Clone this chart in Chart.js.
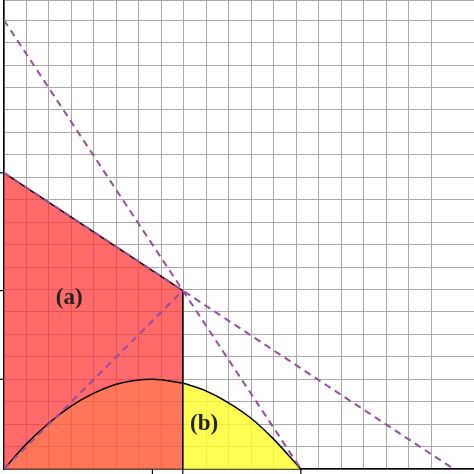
<!DOCTYPE html>
<html><head><meta charset="utf-8">
<script src="https://cdn.jsdelivr.net/npm/chart.js@4"></script>
<style>html,body{margin:0;padding:0;background:#fff}#w{width:474px;height:474px}</style>
</head><body><div id="w"><canvas id="c"></canvas></div>
<script>
const topLineX = [0, 7.95], topLineY = [13.2, 7.95];
const parabX = [0, 1, 2, 3, 4, 5, 6.6, 7.95, 9, 10, 11, 12, 13.2];
const parabY = [0, 1.12, 2.05, 2.81, 3.38, 3.78, 4, 3.83, 3.47, 2.94, 2.25, 1.32, 0];
const dash1X = [0, 13.2], dash1Y = [20, 0];
const dash2X = [0, 20], dash2Y = [13.2, 0];
const dash3X = [0, 7.95], dash3Y = [0, 7.95];
const xTickVals = [6.6, 7.95, 13.2];
const yTickVals = [4, 7.95, 13.2];
const labelTexts = ['(a)', '(b)'];
const labelX = [2.9, 8.9], labelY = [7.6, 2.0];

const pts = (xs, ys) => xs.map((x, i) => ({x, y: ys[i]}));
const splitIdx = parabX.indexOf(7.95);
const purple = '#994D9E';
const dashed = (d) => ({data: d, borderColor: purple, borderWidth: 2, borderDash: [7, 5], pointRadius: 0, fill: false});

const extras = {
  id: 'extras',
  afterDatasetsDraw(ch) {
    const c = ch.ctx, xs = ch.scales.x, ys = ch.scales.y;
    c.save();
    c.strokeStyle = '#000'; c.lineWidth = 1.2;
    xTickVals.forEach(v => { const p = xs.getPixelForValue(v); c.beginPath(); c.moveTo(p, ch.chartArea.bottom); c.lineTo(p, ch.chartArea.bottom + 5); c.stroke(); });
    yTickVals.forEach(v => { const p = ys.getPixelForValue(v); c.beginPath(); c.moveTo(ch.chartArea.left, p); c.lineTo(ch.chartArea.left - 4, p); c.stroke(); });
    c.fillStyle = '#222'; c.font = 'bold 23px "Liberation Serif", serif';
    c.textAlign = 'center'; c.textBaseline = 'middle';
    labelTexts.forEach((t, i) => c.fillText(t, xs.getPixelForValue(labelX[i]), ys.getPixelForValue(labelY[i])));
    c.restore();
  }
};

new Chart(document.getElementById('c'), {
  type: 'line',
  data: { datasets: [
    {data: pts(topLineX, topLineY), borderColor: '#000', borderWidth: 1.5, backgroundColor: 'rgba(255,50,50,0.72)', fill: 'origin', pointRadius: 0, order: 5},
    {data: pts(parabX.slice(0, splitIdx + 1), parabY.slice(0, splitIdx + 1)), borderColor: '#000', borderWidth: 1.5, backgroundColor: 'rgba(255,140,60,0.35)', fill: 'origin', pointRadius: 0, tension: 0.4, cubicInterpolationMode: 'monotone', order: 4},
    {data: pts(parabX.slice(splitIdx), parabY.slice(splitIdx)), borderColor: '#000', borderWidth: 1.5, backgroundColor: 'rgba(255,255,40,0.8)', fill: 'origin', pointRadius: 0, tension: 0.4, cubicInterpolationMode: 'monotone', order: 4},
    {data: [{x: 7.95, y: 0}, {x: 7.95, y: 7.95}], borderColor: '#000', borderWidth: 1.6, pointRadius: 0, fill: false, order: 3},
    Object.assign(dashed(pts(dash1X, dash1Y)), {order: 1}),
    Object.assign(dashed(pts(dash2X, dash2Y)), {order: 1}),
    Object.assign(dashed(pts(dash3X, dash3Y)), {order: 1}),
  ]},
  options: {
    responsive: true, maintainAspectRatio: false, animation: false,
    layout: {padding: {left: 4, bottom: 5, top: 0, right: 0}},
    plugins: {legend: {display: false}, tooltip: {enabled: false}},
    scales: {
      x: {type: 'linear', min: 0, max: 20.9, ticks: {display: false, stepSize: 1}, grid: {color: '#a8a8a8', drawTicks: false}, border: {color: '#000', width: 1.5}},
      y: {type: 'linear', min: 0, max: 20.9, ticks: {display: false, stepSize: 1}, grid: {color: '#a8a8a8', drawTicks: false}, border: {color: '#000', width: 1.5}}
    }
  },
  plugins: [extras]
});
</script></body></html>
